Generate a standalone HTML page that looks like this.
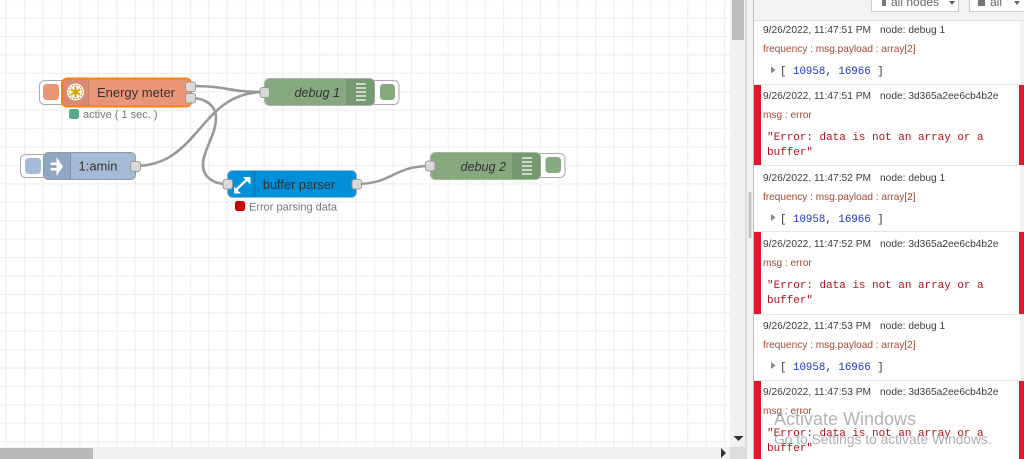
<!DOCTYPE html>
<html><head><meta charset="utf-8"><style>
html,body{margin:0;padding:0;background:#fff}
#r{position:relative;width:1024px;height:459px;overflow:hidden;background:#fff;font-family:"Liberation Sans",sans-serif}
svg{position:absolute;left:0;top:0}
text{font-family:"Liberation Sans",sans-serif}
text.m{font-family:"Liberation Mono",monospace}
</style></head><body><div id="r">
<svg width="1024" height="459" viewBox="0 0 1024 459">
<defs>
<pattern id="g" x="5.600" y="17.500" width="18.42" height="18.42" patternUnits="userSpaceOnUse">
<rect x="0" y="0" width="1.2" height="18.42" fill="#efefef"/><rect x="0" y="0" width="18.42" height="1.2" fill="#efefef"/>
</pattern>
</defs>
<rect x="0" y="0" width="730" height="447" fill="url(#g)"/>

<!-- wires -->
<g fill="none" stroke="#999" stroke-width="2.6">
<path d="M191 86C228 86 228 92 264 92"/>
<path d="M191 98C206 98 216 106 216 118C216 135 203 150 203 165C203 176 212 184 227 184"/>
<path d="M135 166C200 166 199 92 264 92"/>
<path d="M356 184C393 184 393 166 430 166"/>
</g>

<!-- Energy meter -->
<rect x="39.500" y="80.500" width="30" height="24" rx="5" fill="#fff" stroke="#aaa"/>
<rect x="43" y="84" width="16" height="16" rx="3.500" fill="#ea9578"/>
<rect x="62" y="78.500" width="129" height="28" rx="5" fill="#ea9578"/>
<path d="M67 79.500h21.500v26H67q-4 0-4-4v-18q0-4 4-4z" fill="#d98a70"/>
<path d="M88.500 79.500V105.500" stroke="#c47b62" stroke-width="1"/>
<rect x="62" y="78.500" width="129" height="28" rx="5" fill="none" stroke="#ff7f0e" stroke-width="2"/>
<circle cx="75.500" cy="92" r="8.500" fill="#fff"/>
<circle cx="75.500" cy="92" r="6.800" fill="none" stroke="#c98a2a" stroke-width="1.100" stroke-dasharray="1.600 1.200"/>
<path d="M75.500 86.500v11M70.700 89.200l9.600 5.600M80.300 89.200l-9.600 5.600" stroke="#d8a400" stroke-width="2"/>
<text x="136" y="97" font-size="13" fill="#333" text-anchor="middle">Energy meter</text>
<rect x="185.500" y="82" width="10" height="9.500" rx="2.500" fill="#d9d9d9" stroke="#999"/>
<rect x="185.500" y="93.500" width="10" height="9.500" rx="2.500" fill="#d9d9d9" stroke="#999"/>
<rect x="69" y="109" width="10" height="10" rx="2.500" fill="#55a98b"/>
<text x="83" y="118" font-size="11" fill="#777">active ( 1 sec. )</text>

<!-- 1:amin -->
<rect x="20.500" y="154.500" width="30" height="23" rx="5" fill="#fff" stroke="#aaa"/>
<rect x="25" y="158" width="16" height="16" rx="3.500" fill="#a6bbd7"/>
<rect x="43.500" y="152.500" width="92" height="27" rx="5" fill="#a6bbd5" stroke="#999"/>
<path d="M48 153h22.500v26H48q-4 0-4-4V157q0-4 4-4z" fill="#8fa6c4"/>
<path d="M70.500 153V179" stroke="#7f94b0"/>
<path d="M50.500 162.500h6v-5.500l6.500 9.500-6.500 9.500v-5.500h-6v-2.500h6v-3h-6z" fill="#fff"/>
<text x="98" y="170.500" font-size="13" fill="#333" text-anchor="middle">1:amin</text>
<rect x="130.500" y="161.500" width="10" height="10" rx="2.500" fill="#d9d9d9" stroke="#999"/>

<!-- buffer parser -->
<rect x="227.500" y="170.500" width="129" height="27" rx="5" fill="#0090d9" stroke="#8fb9d4"/>
<path d="M254.500 171V197" stroke="#0b78b5"/>
<path d="M236 190l12-11.500" stroke="#fff" stroke-width="2.400"/>
<path d="M243 177h7.500v7.500zM234 186.500v7h7z" fill="#fff"/>
<text x="299" y="189" font-size="12.800" fill="#333" text-anchor="middle">buffer parser</text>
<rect x="223" y="179.500" width="9.500" height="9.500" rx="2.500" fill="#d9d9d9" stroke="#999"/>
<rect x="352" y="179.500" width="9.500" height="9.500" rx="2.500" fill="#d9d9d9" stroke="#999"/>
<rect x="235" y="201" width="10" height="10" rx="2.500" fill="#cc0000"/>
<text x="249" y="210.500" font-size="11" fill="#777">Error parsing data</text>

<!-- debug 1 -->
<rect x="370" y="80.500" width="29" height="24" rx="5" fill="#fff" stroke="#aaa"/>
<rect x="380" y="84" width="15" height="16" rx="3.500" fill="#87a980"/>
<rect x="264.500" y="78.500" width="110" height="27" rx="5" fill="#87a980" stroke="#a5b8a0"/>
<path d="M347.500 79h22q5 0 5 5v16q0 5-5 5h-22z" fill="#76996f"/>
<path d="M347 79V105" stroke="#6f916a"/>
<path d="M356 84h10M356 88h10M356 92h10M356 96h10M356 100h10" stroke="#fff" stroke-width="1.300"/>
<text x="340" y="97" font-size="12.600" font-style="italic" fill="#333" text-anchor="end">debug 1</text>
<rect x="260" y="87.500" width="9.500" height="10" rx="2.500" fill="#d9d9d9" stroke="#999"/>

<!-- debug 2 -->
<rect x="536" y="153.500" width="29" height="24" rx="5" fill="#fff" stroke="#aaa"/>
<rect x="545.500" y="157" width="15.500" height="16" rx="3.500" fill="#87a980"/>
<rect x="430.500" y="152.500" width="110" height="27" rx="5" fill="#87a980" stroke="#a5b8a0"/>
<path d="M513.500 153h22q5 0 5 5v16q0 5-5 5h-22z" fill="#76996f"/>
<path d="M513 153V179" stroke="#6f916a"/>
<path d="M522 158h10M522 162h10M522 166h10M522 170h10M522 174h10" stroke="#fff" stroke-width="1.300"/>
<text x="506" y="171" font-size="12.600" font-style="italic" fill="#333" text-anchor="end">debug 2</text>
<rect x="425.500" y="161" width="9.500" height="10" rx="2.500" fill="#d9d9d9" stroke="#999"/>

<!-- canvas scrollbars -->
<rect x="0" y="447" width="730" height="12" fill="#f0f0f0"/>
<rect x="0" y="448" width="93" height="11" fill="#b9b9b9"/>
<path d="M721 448v10l5-5z" fill="#333"/>
<rect x="730" y="447" width="17" height="12" fill="#dcdcdc"/>
<rect x="730" y="0" width="17" height="447" fill="#f0f0f0"/>
<rect x="732" y="0" width="12" height="40" fill="#bdbdbd"/>
<path d="M733.500 436h10l-5 5z" fill="#333"/>

<!-- separator -->
<rect x="747" y="0" width="6" height="459" fill="#f3f3f3"/>
<rect x="745" y="0" width="2" height="459" fill="#dcdcdc"/>
<rect x="748.500" y="192" width="3" height="46" fill="#c4c4c4"/>
<rect x="753" y="0" width="271" height="459" fill="#f3f3f3"/>
<rect x="753" y="0" width="1" height="459" fill="#bbb"/>

<!-- sidebar header -->
<rect x="754" y="0" width="270" height="21" fill="#f3f3f3"/>
<rect x="754" y="20" width="270" height="1" fill="#ddd"/>
<rect x="871.500" y="-5" width="87" height="16.500" fill="#fff" stroke="#ccc"/>
<rect x="969.500" y="-5" width="60" height="16.500" fill="#fff" stroke="#ccc"/>
<rect x="882" y="0" width="4" height="6" fill="#777"/>
<text x="891" y="6" font-size="12" fill="#666">all nodes</text>
<path d="M949 1h6l-3 4z" fill="#666"/>
<rect x="978" y="0" width="7" height="6" fill="#777"/>
<text x="990" y="6" font-size="12" fill="#666">all</text>
<path d="M1014 1h6l-3 4z" fill="#666"/>

<!-- messages -->
<rect x="754" y="21" width="266" height="438" fill="#fff"/>
<rect x="1020" y="21" width="4" height="64" fill="#f3f3f3"/>

<g font-size="10.2" fill="#3c3c3c">
<text x="763" y="33">9/26/2022, 11:47:51 PM</text><text x="880" y="33">node: debug 1</text>
<text x="763" y="181">9/26/2022, 11:47:52 PM</text><text x="880" y="181">node: debug 1</text>
<text x="763" y="329">9/26/2022, 11:47:53 PM</text><text x="880" y="329">node: debug 1</text>
<text x="763" y="99">9/26/2022, 11:47:51 PM</text><text x="880" y="99">node: 3d365a2ee6cb4b2e</text>
<text x="763" y="247">9/26/2022, 11:47:52 PM</text><text x="880" y="247">node: 3d365a2ee6cb4b2e</text>
<text x="763" y="395">9/26/2022, 11:47:53 PM</text><text x="880" y="395">node: 3d365a2ee6cb4b2e</text>
</g>
<g font-size="10.1" fill="#a2492f">
<text x="763" y="52">frequency : msg.payload : array[2]</text>
<text x="763" y="200">frequency : msg.payload : array[2]</text>
<text x="763" y="348">frequency : msg.payload : array[2]</text>
<text x="763" y="118">msg : error</text>
<text x="763" y="266">msg : error</text>
<text x="763" y="414">msg : error</text>
</g>
<g font-size="10.8">
<path d="M771 66.500l4.500 3.500-4.500 3.500z" fill="#888"/><text class="m" x="780" y="74" fill="#333">[ <tspan fill="#1f35c4">10958</tspan>, <tspan fill="#1f35c4">16966</tspan> ]</text>
<path d="M771 214l4.500 3.500-4.500 3.500z" fill="#888"/><text class="m" x="780" y="222" fill="#333">[ <tspan fill="#1f35c4">10958</tspan>, <tspan fill="#1f35c4">16966</tspan> ]</text>
<path d="M771 362l4.500 3.500-4.500 3.500z" fill="#888"/><text class="m" x="780" y="370" fill="#333">[ <tspan fill="#1f35c4">10958</tspan>, <tspan fill="#1f35c4">16966</tspan> ]</text>
</g>
<g font-size="10.950" fill="#b40f1e">
<text class="m" x="767" y="140">"Error: data is not an array or a</text><text class="m" x="767" y="155">buffer"</text>
<text class="m" x="767" y="288">"Error: data is not an array or a</text><text class="m" x="767" y="303">buffer"</text>
<text class="m" x="767" y="436">"Error: data is not an array or a</text><text class="m" x="767" y="451">buffer"</text>
</g>

<!-- error bars and separators -->
<g fill="#e2182d">
<rect x="754" y="85" width="7" height="80"/><rect x="1019" y="85" width="5" height="80"/>
<rect x="754" y="232" width="7" height="83"/><rect x="1019" y="232" width="5" height="83"/>
<rect x="754" y="381" width="7" height="78"/><rect x="1019" y="381" width="5" height="78"/>
</g>
<g fill="#e6e6e6">
<rect x="754" y="84" width="270" height="1"/><rect x="754" y="165" width="270" height="1"/>
<rect x="754" y="231" width="270" height="1"/><rect x="754" y="314" width="270" height="1"/>
<rect x="754" y="380" width="270" height="1"/>
</g>

<text x="774" y="425" font-size="18" fill="#9a9a9a" fill-opacity=".75">Activate Windows</text>
<text x="774" y="444" font-size="13.800" fill="#9a9a9a" fill-opacity=".8">Go to Settings to activate Windows.</text>
</svg>
</div></body></html>
